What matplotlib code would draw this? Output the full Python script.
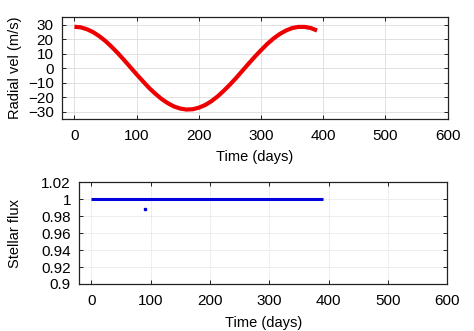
import matplotlib
matplotlib.use("Agg")
import matplotlib.pyplot as plt

plt.rcParams['font.family'] = ['Liberation Sans', 'DejaVu Sans']
plt.rcParams['font.size'] = 10.5

# Radial velocity of the star over time
rv_time = [0, 10, 20, 30, 40, 50, 60, 70, 80, 90, 100, 110, 120, 130, 140,
           150, 160, 170, 180, 190, 200, 210, 220, 230, 240, 250, 260, 270,
           280, 290, 300, 310, 320, 330, 340, 350, 360, 370, 380, 390]
rv_vel = [28.5, 28.1, 26.8, 24.8, 22.0, 18.6, 14.6, 10.2, 5.5, 0.6, -4.3,
          -9.0, -13.6, -17.6, -21.2, -24.1, -26.4, -27.8, -28.5, -28.3,
          -27.2, -25.4, -22.8, -19.5, -15.6, -11.3, -6.7, -1.8, 3.1, 7.9,
          12.4, 16.7, 20.4, 23.5, 25.9, 27.6, 28.4, 28.4, 27.6, 25.9]

# Relative stellar flux: flat baseline plus a single transit sample
flux_time = [0, 390]
flux_val = [1.0, 1.0]
transit_time = [90]
transit_flux = [0.989]

x_ticks = [0, 100, 200, 300, 400, 500, 600]
rv_ticks = [-30, -20, -10, 0, 10, 20, 30]
flux_ticks = [0.9, 0.92, 0.94, 0.96, 0.98, 1.0, 1.02]
flux_ticklabels = ['0.9', '0.92', '0.94', '0.96', '0.98', '1', '1.02']

fig = plt.figure(figsize=(4.74, 3.31), dpi=100)
ax1 = fig.add_axes([0.1308, 0.6405, 0.8137, 0.3072])
ax2 = fig.add_axes([0.1673, 0.142, 0.7764, 0.3073])

ax1.plot(rv_time, rv_vel, color='#ee0000', linewidth=3.0, solid_capstyle='butt')
ax1.set_xlim(-20, 600)
ax1.set_ylim(-35, 35)
ax1.set_xticks(x_ticks)
ax1.set_yticks(rv_ticks)
ax1.set_xlabel('Time (days)', labelpad=5)
ax1.set_ylabel('Radial vel (m/s)', labelpad=4)
ax1.grid(True, color='#dcdcdc', linewidth=0.6)

ax2.plot(flux_time, flux_val, color='#0000dd', linewidth=2.2, solid_capstyle='butt')
ax2.plot(transit_time, transit_flux, linestyle='none', marker='s',
         markersize=1.5, color='#0000dd')
ax2.set_xlim(-20, 600)
ax2.set_ylim(0.9, 1.02)
ax2.set_xticks(x_ticks)
ax2.set_yticks(flux_ticks)
ax2.set_yticklabels(flux_ticklabels)
ax2.set_xlabel('Time (days)', labelpad=6)
ax2.set_ylabel('Stellar flux', labelpad=14)
ax2.grid(True, color='#d8d8d8', linewidth=0.6, linestyle=(0, (1, 1)))

for ax in (ax1, ax2):
    ax.set_axisbelow(True)
    ax.tick_params(direction='in', top=True, right=True, length=3,
                   width=0.6, pad=7, labelsize=11)
    ax.tick_params(axis='y', pad=6)
    for s in ax.spines.values():
        s.set_linewidth(0.9)
        s.set_color('#222222')

fig.savefig('out.png', dpi=100)
